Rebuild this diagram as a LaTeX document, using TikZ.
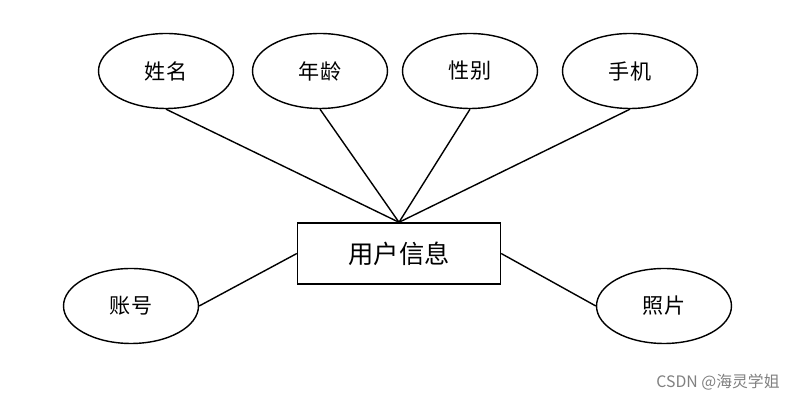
\documentclass[tikz,border=0pt]{standalone}
\usepackage{fontspec}
\setmainfont{Noto Sans CJK SC}
\usetikzlibrary{shapes.geometric}
\begin{document}
\begin{tikzpicture}[x=0.02cm,y=-0.02cm,
  attr/.style={ellipse,draw,thick,minimum width=2.7cm,minimum height=1.5cm,font=\large,inner sep=0pt},
  ent/.style={rectangle,draw,thick,minimum width=4.06cm,minimum height=1.22cm,font=\Large},
  link/.style={thick}]
\useasboundingbox (0,0) rectangle (802,401);
\node[attr] (xm) at (166,71) {姓名};
\node[attr] (nl) at (320,71) {年龄};
\node[attr] (xb) at (470,71) {性别};
\node[attr] (sj) at (630,71) {手机};
\node[attr] (zh) at (131,306) {账号};
\node[attr] (zp) at (664,306) {照片};
\node[ent] (yh) at (399,253.5) {用户信息};
\foreach \n in {xm,nl,xb,sj} \draw[link] (\n.south) -- (yh.north);
\draw[link] (zh.east) -- (yh.west);
\draw[link] (zp.west) -- (yh.east);
\node[text=gray,font=\small] (wm) at (718,382) {CSDN @海灵学姐};
\end{tikzpicture}
\end{document}
